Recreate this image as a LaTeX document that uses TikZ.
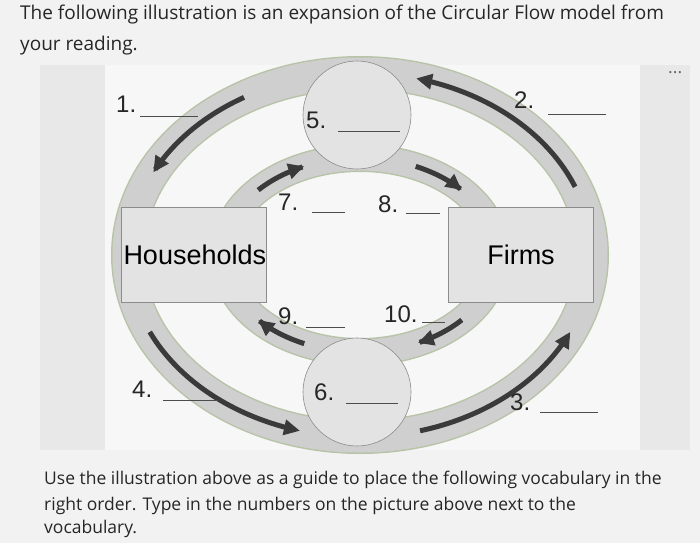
\documentclass[tikz,border=0pt]{standalone}
\usepackage{fontspec}
\setmainfont{Open Sans}
\newfontfamily\dg{Liberation Sans}
\usetikzlibrary{arrows.meta}
\definecolor{bg}{HTML}{F2F2F2}
\definecolor{ring}{HTML}{CFCFCF}
\definecolor{ringedge}{HTML}{B8C4A8}
\definecolor{arr}{HTML}{3A3A3A}
\definecolor{boxf}{HTML}{E3E3E3}
\tikzset{
 flow/.style={arr,line width=5pt,-{Triangle[length=16pt,width=15pt]}},
 lab/.style={font=\dg\fontsize{24}{24}\selectfont,text=black!85,anchor=base west,inner sep=0},
 blank/.style={black!70,line width=0.8pt},
 txt/.style={font=\fontsize{17.5}{20}\selectfont,text=black!85,anchor=base west,inner sep=0,align=left},
 sector/.style={draw=black!45,fill=boxf,line width=0.6pt,minimum width=145pt,minimum height=95pt,font=\dg\fontsize{27}{27}\selectfont},
 mkt/.style={circle,draw=black!45,fill=boxf,line width=0.6pt,minimum size=108pt}
}
\begin{document}
\begin{tikzpicture}[x=1pt,y=-1pt]
\useasboundingbox (0,0) rectangle (700,543);
\fill[bg] (0,0) rectangle (700,543);
\fill[black!9] (40,65) rectangle (105,450);
\fill[black!9] (640,65) rectangle (690,450);
\fill[white!97!black] (105,65) rectangle (640,450);
\node[txt,font=\fontsize{19}{20}\selectfont] (t1) at (20,20) {The following illustration is an expansion of the Circular Flow model from};
\node[txt,font=\fontsize{19}{20}\selectfont] (t2) at (20,50) {your reading.};
\node[txt,text=black!60] (dots) at (668,74) {...};
% rings
\draw[ringedge,line width=34pt] (360,255) ellipse [x radius=232,y radius=182];
\draw[ring,line width=31pt] (360,255) ellipse [x radius=232,y radius=182];
\draw[ringedge,line width=28pt] (360,255) ellipse [x radius=137,y radius=97];
\draw[ring,line width=25pt] (360,255) ellipse [x radius=137,y radius=97];
% circles and boxes
\node[mkt] (c5) at (357,115) {};
\node[mkt] (c6) at (357,392) {};
\node[sector,align=left,text width=141pt,inner sep=2pt] (hh) at (194,255) {Households};
\node[sector] (fi) at (521,255) {Firms};
% outer arrows
\draw[flow] plot[domain=120:153,smooth] ({360+232*cos(\x)},{255-182*sin(\x)});
\draw[flow] plot[domain=22:76,smooth] ({360+232*cos(\x)},{255-182*sin(\x)});
\draw[flow] plot[domain=205:255,smooth] ({360+232*cos(\x)},{255-182*sin(\x)});
\draw[flow] plot[domain=285:335,smooth] ({360+232*cos(\x)},{255-182*sin(\x)});
% inner arrows
\draw[flow] plot[domain=138:114,smooth] ({360+137*cos(\x)},{255-97*sin(\x)});
\draw[flow] plot[domain=66:42,smooth] ({360+137*cos(\x)},{255-97*sin(\x)});
\draw[flow] plot[domain=246:222,smooth] ({360+137*cos(\x)},{255-97*sin(\x)});
\draw[flow] plot[domain=318:295,smooth] ({360+137*cos(\x)},{255-97*sin(\x)});
% labels
\node[lab] (l1) at (116,112) {1.}; \draw[blank] (140,116) -- (198,116);
\node[lab] (l5) at (306,128) {5.}; \draw[blank] (338,131) -- (400,131);
\node[lab] (l2) at (514,108) {2.}; \draw[blank] (548,114) -- (606,114);
\node[lab] (l7) at (278,210) {7.}; \draw[blank] (312,212) -- (345,212);
\node[lab] (l8) at (378,212) {8.}; \draw[blank] (406,213) -- (440,213);
\node[lab] (l9) at (278,324) {9.}; \draw[blank] (306,327) -- (345,327);
\node[lab] (l10) at (384,322) {10.}; \draw[blank] (422,322) -- (445,322);
\node[lab] (l4) at (132,397) {4.}; \draw[blank] (163,400) -- (218,400);
\node[lab] (l6) at (314,400) {6.}; \draw[blank] (346,403) -- (398,403);
\node[lab] (l3) at (510,410) {3.}; \draw[blank] (540,412) -- (598,412);
\node[txt] (b1) at (44,484) {Use the illustration above as a guide to place the following vocabulary in the};
\node[txt] (b2) at (44,510) {right order. Type in the numbers on the picture above next to the};
\node[txt] (b3) at (44,533) {vocabulary.};
\end{tikzpicture}
\end{document}
